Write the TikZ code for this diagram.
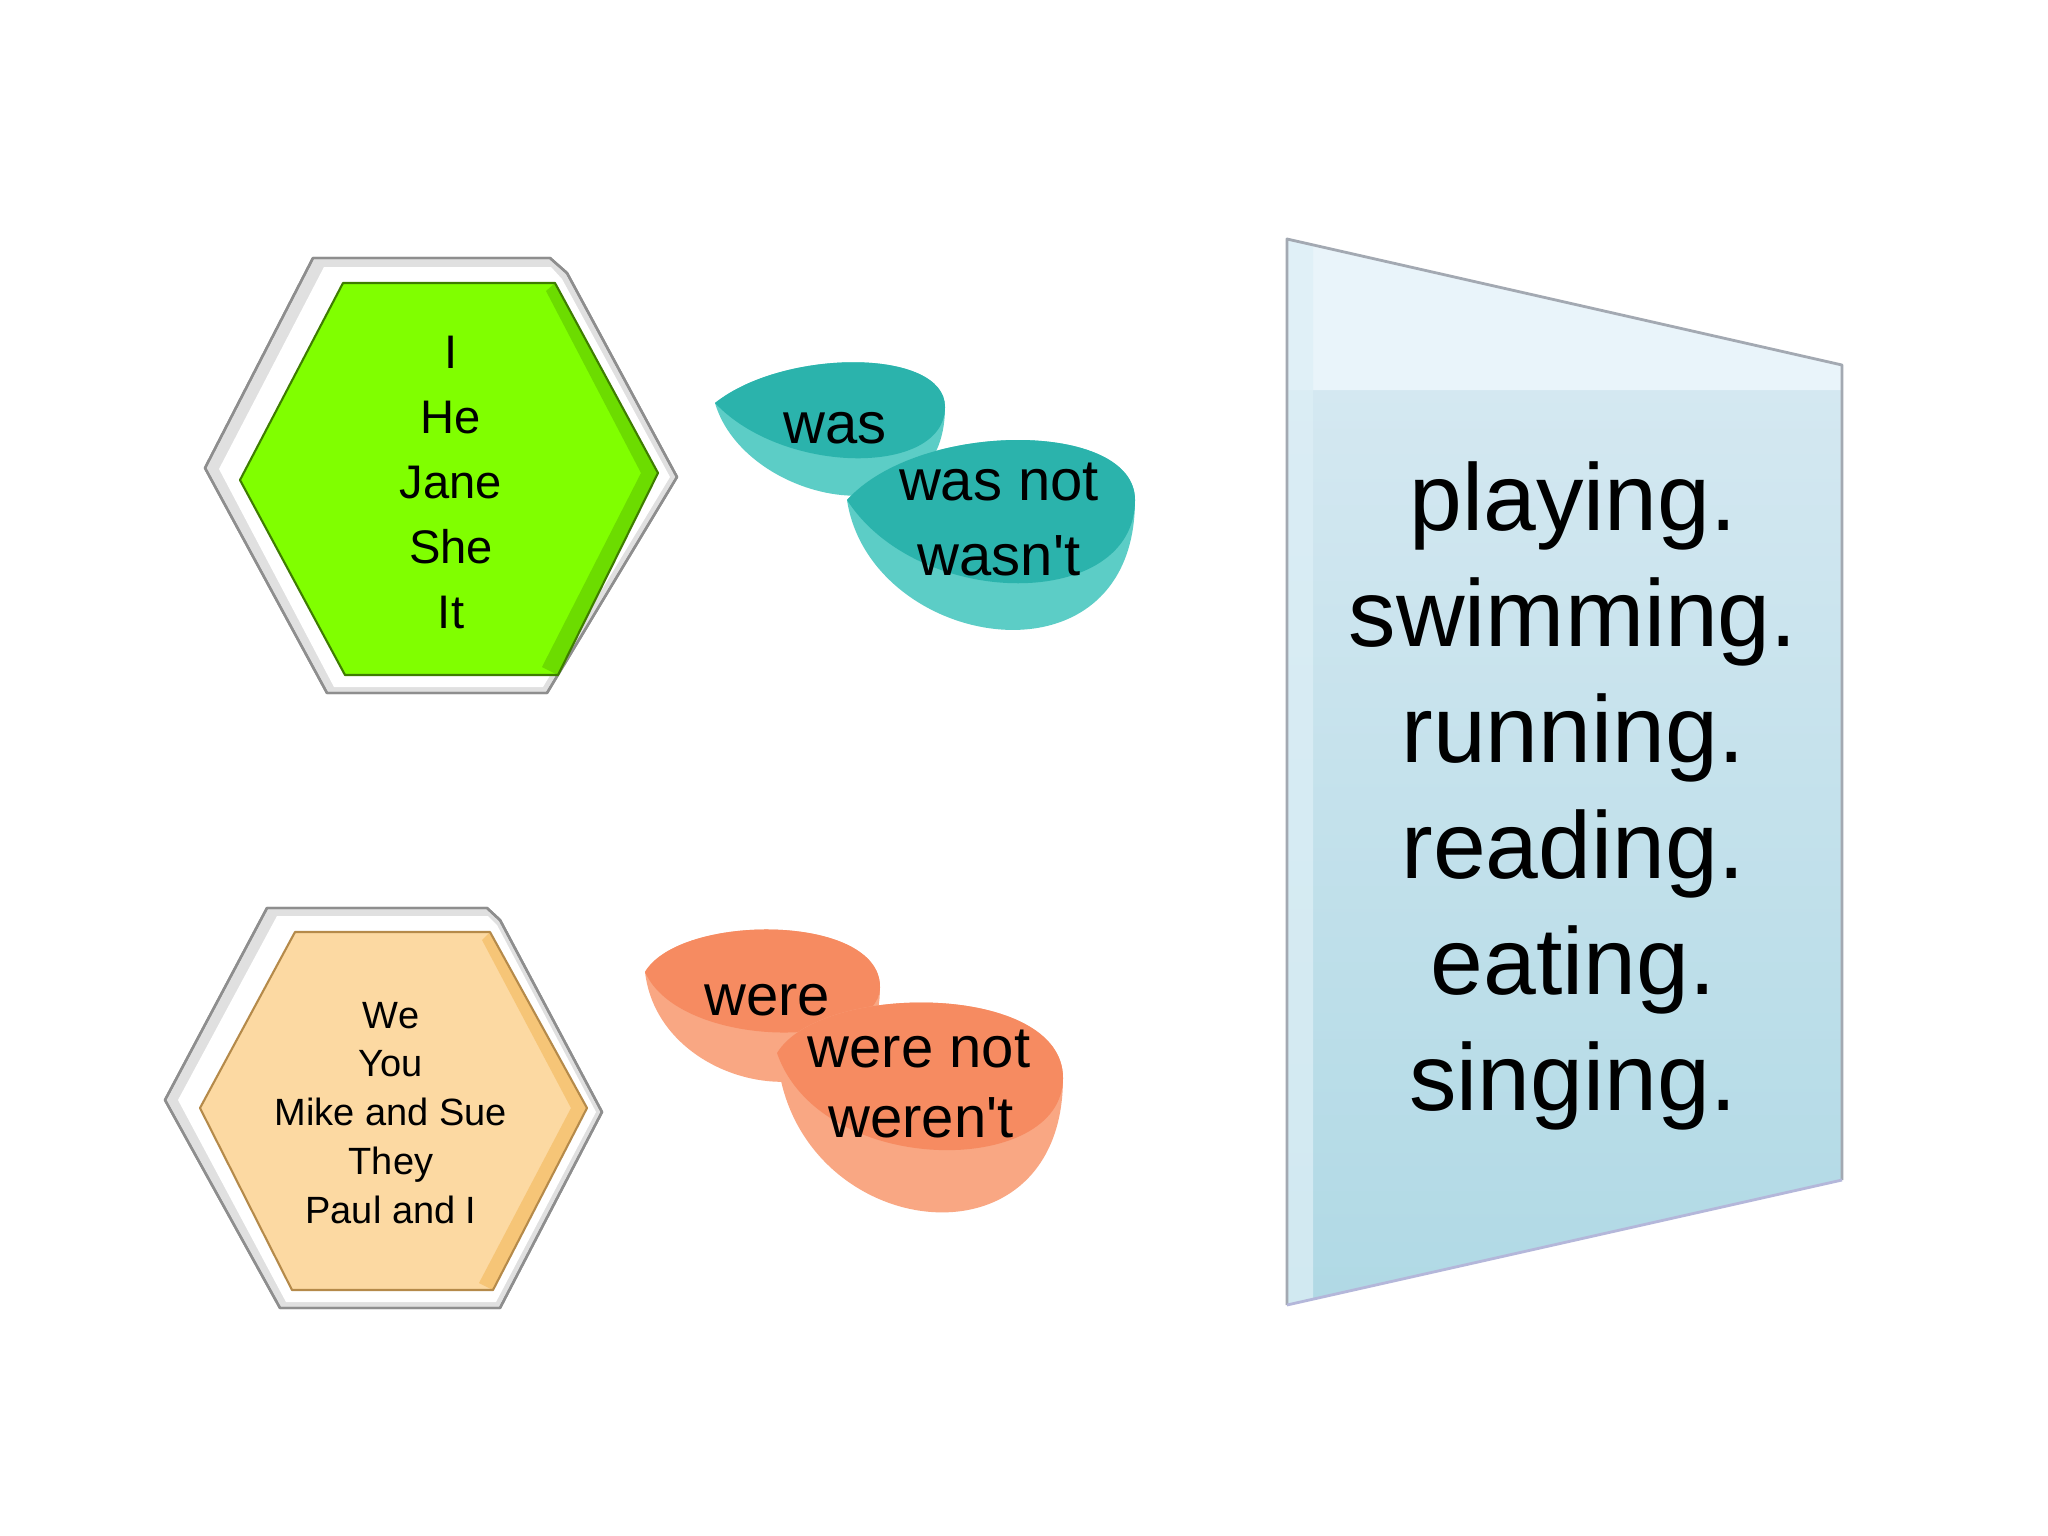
\documentclass[tikz,border=0pt]{standalone}
\usepackage{fontspec}
\setmainfont{Liberation Sans}[Ligatures=TeXOff]
\definecolor{hexgray}{HTML}{E0E0E0}
\definecolor{hexedge}{HTML}{8E8E8E}
\definecolor{grn}{HTML}{80FF00}
\definecolor{grnstrip}{HTML}{6CDC00}
\definecolor{grnedge}{HTML}{3E7D00}
\definecolor{org}{HTML}{FCD9A2}
\definecolor{orgstrip}{HTML}{F6C577}
\definecolor{orgedge}{HTML}{B58A4A}
\definecolor{tealtop}{HTML}{2BB3AC}
\definecolor{tealside}{HTML}{5CCDC6}
\definecolor{salmtop}{HTML}{F68B61}
\definecolor{salmside}{HTML}{F9A783}
\definecolor{pband}{HTML}{E9F4FA}
\definecolor{ptop}{HTML}{D4E8F1}
\definecolor{pbot}{HTML}{B0D9E5}
\definecolor{pstrip}{HTML}{DDEFF6}
\definecolor{pedge}{HTML}{A3A9B2}
\tikzset{
  hexout/.style={fill=hexgray, draw=hexedge, line width=0.7pt, line join=round},
  hexwhite/.style={fill=white},
  lbl/.style={anchor=base, inner sep=0pt, text=black},
  greentxt/.style={lbl, font=\fontsize{13.4}{16}\selectfont},
  orangetxt/.style={lbl, font=\fontsize{10.8}{13}\selectfont},
  petaltxt/.style={lbl, font=\fontsize{16.5}{20}\selectfont},
  paneltxt/.style={lbl, font=\fontsize{27}{32}\selectfont},
}
\begin{document}
\begin{tikzpicture}[x=0.01cm,y=-0.01cm]
\useasboundingbox (0,0) rectangle (2048,1536);
\fill[white] (0,0) rectangle (2048,1536);

% ---------- green hexagon ----------
\path[hexout] (313,258) -- (550,258) -- (567,273) -- (677,477) -- (547,693) -- (327,693) -- (205,468) -- cycle;
\fill[hexwhite] (324,267) -- (551,267) -- (562,279) -- (670,477) -- (543,687) -- (334,687) -- (219,469) -- cycle;
\draw[hexedge, line width=0.7pt, line join=round] (313,258) -- (550,258) -- (567,273) -- (677,477) -- (547,693) -- (327,693) -- (205,468) -- cycle;
\fill[grn] (343,283) -- (555,283) -- (658,473) -- (558,675) -- (345,675) -- (240,480) -- cycle;
\fill[grnstrip] (546,291) -- (555,283) -- (658,473) -- (558,675) -- (542,667) -- (641,473) -- cycle;
\draw[grnedge, line width=0.6pt, line join=round] (343,283) -- (555,283) -- (658,473) -- (558,675) -- (345,675) -- (240,480) -- cycle;
\foreach \t [count=\i from 0] in {I,He,Jane,She,It}
  \node[greentxt] (g\i) at (451,368+65*\i) {\t};

% ---------- orange hexagon ----------
\path[hexout] (267,908) -- (487,908) -- (500,920) -- (602,1112) -- (500,1308) -- (280,1308) -- (165,1100) -- cycle;
\fill[hexwhite] (277,916) -- (488,916) -- (497,925) -- (596,1112) -- (496,1302) -- (286,1302) -- (178,1100) -- cycle;
\draw[hexedge, line width=0.7pt, line join=round] (267,908) -- (487,908) -- (500,920) -- (602,1112) -- (500,1308) -- (280,1308) -- (165,1100) -- cycle;
\fill[org] (295,932) -- (490,932) -- (587,1108) -- (493,1290) -- (292,1290) -- (200,1108) -- cycle;
\fill[orgstrip] (482,940) -- (490,932) -- (587,1108) -- (493,1290) -- (479,1283) -- (571,1108) -- cycle;
\draw[orgedge, line width=0.6pt, line join=round] (295,932) -- (490,932) -- (587,1108) -- (493,1290) -- (292,1290) -- (200,1108) -- cycle;
\foreach \t [count=\i from 0] in {We,You,Mike and Sue,They,Paul and I}
  \node[orangetxt] (o\i) at (391,1028+48.75*\i) {\t};

% ---------- teal petals ----------
\fill[tealside] (715,403) .. controls (745,505) and (945,545) .. (945,407) .. controls (945,348) and (784,348) .. cycle;
\fill[tealtop] (715,403) .. controls (784,348) and (945,348) .. (945,407) .. controls (945,476) and (784,476) .. cycle;
\fill[tealside] (847,500) .. controls (870,650) and (1135,695) .. (1135,500) .. controls (1135,420) and (919,420) .. cycle;
\fill[tealtop] (847,500) .. controls (919,420) and (1135,420) .. (1135,500) .. controls (1135,611) and (919,611) .. cycle;
\node[petaltxt] (was) at (835,443) {was};
\node[petaltxt] (wasnot) at (999,500) {was not};
\node[petaltxt] (wasnt) at (999,575) {wasn't};

% ---------- salmon petals ----------
\fill[salmside] (645,972) .. controls (660,1100) and (880,1130) .. (880,987) .. controls (880,913) and (680,913) .. cycle;
\fill[salmtop] (645,972) .. controls (680,913) and (880,913) .. (880,987) .. controls (880,1050) and (680,1050) .. cycle;
\fill[salmside] (777,1053) .. controls (790,1240) and (1063,1280) .. (1063,1078) .. controls (1063,982) and (820,982) .. cycle;
\fill[salmtop] (777,1053) .. controls (820,982) and (1063,982) .. (1063,1078) .. controls (1063,1178) and (820,1178) .. cycle;
\node[petaltxt] (were) at (767,1015) {were};
\node[petaltxt] (werenot) at (919,1067) {were not};
\node[petaltxt] (werent) at (921,1137) {weren't};

% ---------- panel ----------
\begin{scope}
  \clip (1287,390) -- (1842,390) -- (1842,1180) -- (1287,1305) -- cycle;
  \shade[top color=ptop, bottom color=pbot] (1287,390) rectangle (1842,1305);
\end{scope}
\fill[pband] (1287,239) -- (1842,365) -- (1842,390) -- (1287,390) -- cycle;
\fill[pstrip, opacity=0.75] (1287,239) -- (1313,245) -- (1313,1299) -- (1287,1305) -- cycle;
\draw[pedge, line width=0.8pt, line join=round] (1287,1305) -- (1287,239) -- (1842,365) -- (1842,1180);
\draw[pedge!80!blue!60!white, line width=0.8pt] (1842,1180) -- (1287,1305);
\foreach \t [count=\i from 0] in {playing.,swimming.,running.,reading.,eating.,singing.}
  \node[paneltxt] (p\i) at (1573,530+116*\i) {\t};
\end{tikzpicture}
\end{document}
